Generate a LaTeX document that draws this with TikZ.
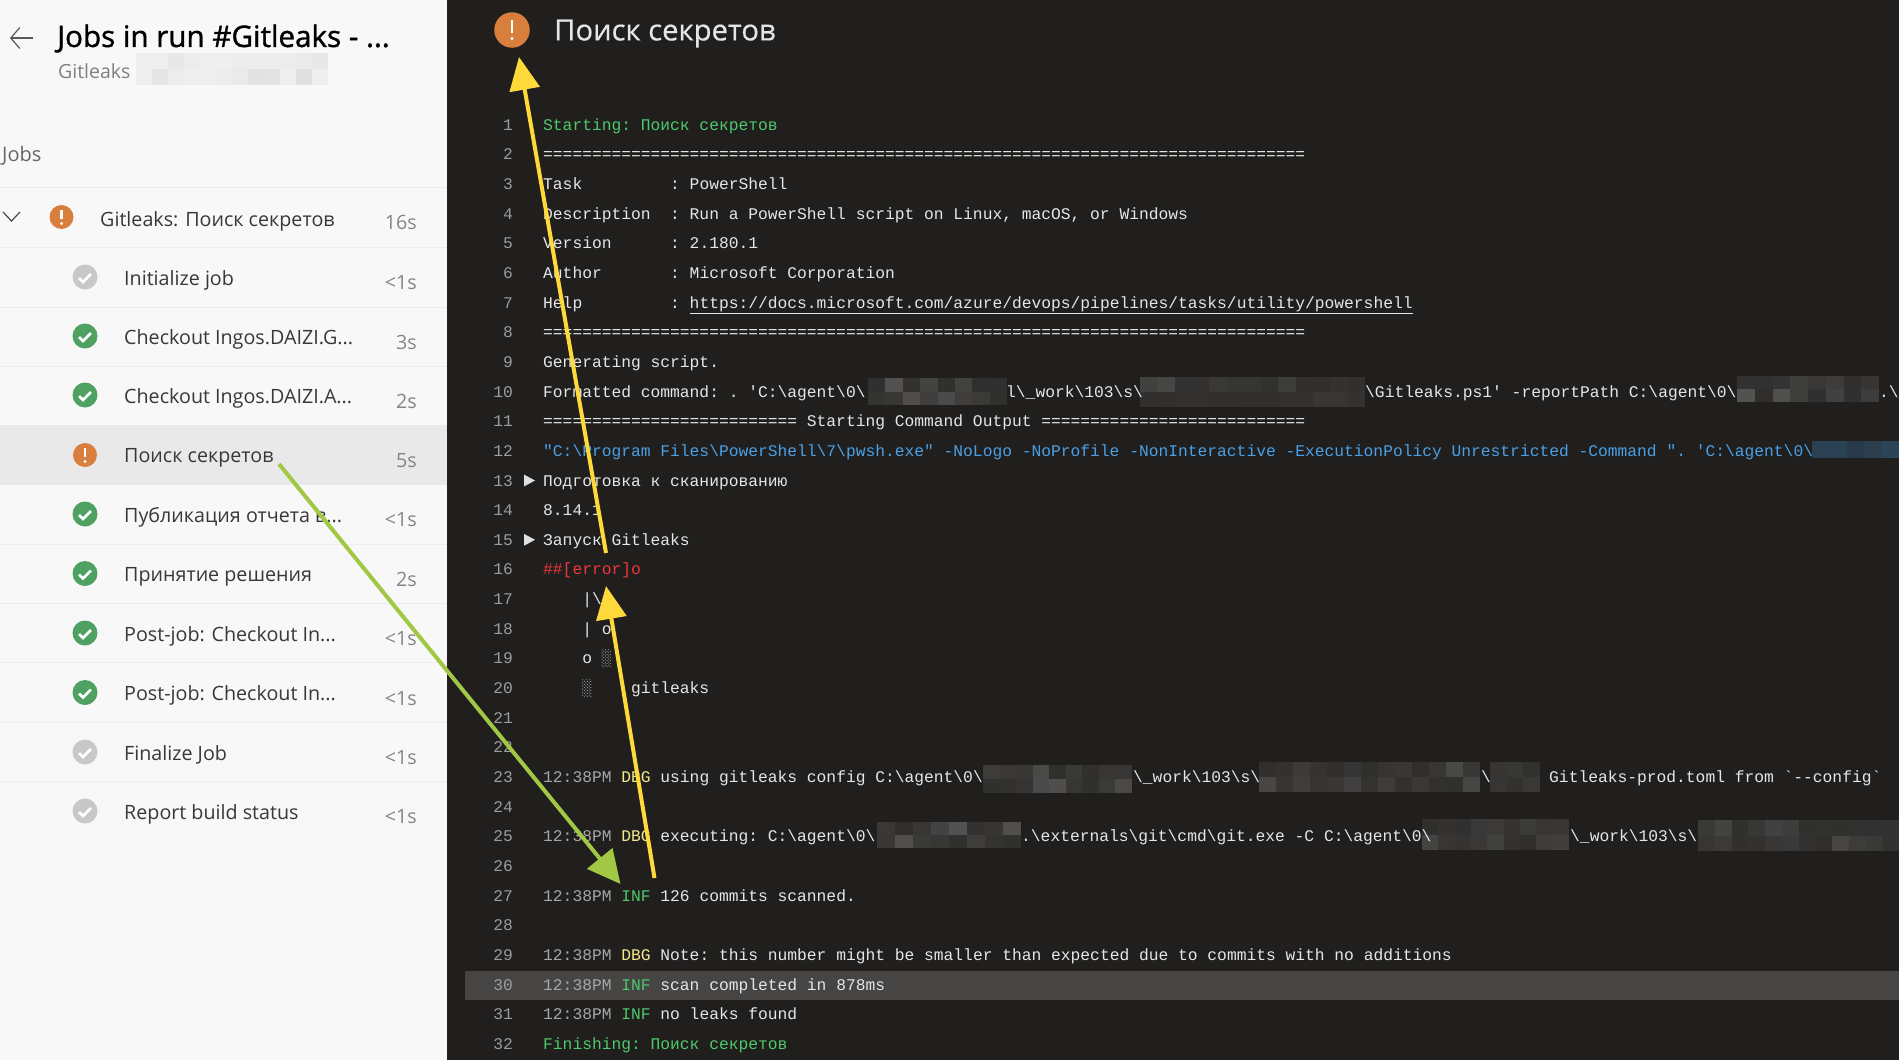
\documentclass[tikz,border=0pt]{standalone}
\usepackage{fontspec}
\usepackage{tikz}
\usetikzlibrary{arrows.meta}
\setmainfont{Open Sans}
\newfontfamily\logfont{Liberation Mono}
\newfontfamily\headfont[FakeBold=1.2]{Open Sans}
\newfontfamily\paneheadfont[FakeBold=0.5]{Open Sans}
\definecolor{panel}{HTML}{F8F8F8}
\definecolor{console}{HTML}{201F1E}
\definecolor{picked}{HTML}{E9E9E9}
\definecolor{rule}{HTML}{EDEDED}
\definecolor{okgreen}{HTML}{4FA162}
\definecolor{skipgrey}{HTML}{C8C8C8}
\definecolor{warnorange}{HTML}{D97F3E}
\definecolor{lognum}{HTML}{9C9C9C}
\definecolor{logtext}{HTML}{E6E6E6}
\definecolor{logtime}{HTML}{A6A6A6}
\definecolor{loggreen}{HTML}{4EC96B}
\definecolor{logyellow}{HTML}{F2E98C}
\definecolor{logblue}{HTML}{4AA0E6}
\definecolor{logred}{HTML}{F0353A}
\definecolor{hiline}{HTML}{464544}
\definecolor{yellowarrow}{HTML}{FFD83A}
\definecolor{greenarrow}{HTML}{A0C845}
\colorlet{blurlight}{black!13}
\colorlet{blurlow}{black!6}
\colorlet{blurhigh}{white!28!console}
\colorlet{blurmid}{white!20!console}
\colorlet{blurdark}{white!7!console}
\colorlet{blurbluehigh}{logblue!40!console}
\colorlet{blurbluelow}{logblue!22!console}
\newcommand{\bs}{\textbackslash}
\newcommand{\stamp}[1]{\textcolor{logtime}{12:38PM} \textcolor{#1}}
% x0,y0,x1,y1,cols,rows,light,dark
\newcommand{\pixpatch}[8]{%
  \pgfmathsetmacro\cw{(#3-#1)/#5}
  \pgfmathsetmacro\ch{(#4-#2)/#6}
  \foreach \i in {1,...,#5} {
    \foreach \j in {1,...,#6} {
      \pgfmathsetmacro\mixv{int(100*rnd*rnd)}
      \fill[#7!\mixv!#8] ({#1+(\i-1)*\cw},{#2+(\j-1)*\ch}) rectangle ++(\cw+0.4,\ch+0.4);
    }
  }
}
\tikzset{
  rowlabel/.style={anchor=west,inner sep=0pt,text=black!78,font=\fontsize{19.7}{24}\selectfont},
  rowtime/.style={anchor=east,inner sep=0pt,text=black!48,font=\fontsize{19.7}{24}\selectfont},
  okdot/.style={circle,inner sep=0pt,minimum size=25pt,fill=okgreen,path picture={
    \draw[white,line width=2.6pt] ([shift={(-6,1)}]path picture bounding box.center) -- ++(4,4) -- ++(8,-8);}},
  skipdot/.style={circle,inner sep=0pt,minimum size=25pt,fill=skipgrey,path picture={
    \draw[white,line width=2.6pt] ([shift={(-6,1)}]path picture bounding box.center) -- ++(4,4) -- ++(8,-8);}},
  warndot/.style={circle,inner sep=0pt,minimum size=24pt,fill=warnorange,path picture={
    \draw[white,line width=2.6pt] ([shift={(0,-7)}]path picture bounding box.center) -- ++(0,9);
    \fill[white] ([shift={(0,6.5)}]path picture bounding box.center) circle (1.7);}},
  lognode/.style={anchor=base west,inner sep=0pt,yshift=-5.5pt,text=logtext,font=\logfont\fontsize{16.28}{18}\selectfont\frenchspacing},
  numnode/.style={anchor=base east,inner sep=0pt,yshift=-5.5pt,text=lognum,font=\logfont\fontsize{16.28}{18}\selectfont},
  yellowline/.style={-{Triangle[length=33pt,width=30pt]},line width=4pt,yellowarrow},
  greenline/.style={-{Triangle[length=33pt,width=32pt]},line width=4pt,greenarrow},
}
\begin{document}
\begin{tikzpicture}[x=1pt,y=-1pt]
  \useasboundingbox (0,0) rectangle (1899,1060);
  \fill[panel] (0,0) rectangle (447,1060);
  \fill[console] (447,0) rectangle (1899,1060);

  % left panel
  \fill[picked] (0,425) rectangle (447,485);
  \foreach \ry in {187,247,307,366,544,603,662,722,781}
    \draw[rule,line width=1pt] (0,\ry) -- (447,\ry);
  \coordinate (backtail) at (33,38);
  \coordinate (backtip) at (10,38);
  \draw[-{Straight Barb[length=9pt,width=21pt]},black!65,line width=1.2pt] (backtail) -- (backtip);
  \node[anchor=west,inner sep=0pt,text=black,font=\headfont\fontsize{29.6}{34}\selectfont] (jobstitle) at (57,38.5) {Jobs in run \#Gitleaks - ...};
  \node[anchor=west,inner sep=0pt,text=black!50,font=\fontsize{19.5}{24}\selectfont] (pipeline) at (58,71) {Gitleaks};
  \pgfmathsetseed{7}
  \pixpatch{136}{53}{328}{85}{12}{2}{blurlight}{blurlow}
  \node[anchor=west,inner sep=0pt,text=black!60,font=\fontsize{20}{24}\selectfont] (jobshead) at (2,156) {Jobs};

  \coordinate (chevl) at (3,212);
  \coordinate (chevm) at (11.5,221);
  \coordinate (chevr) at (20,212);
  \draw[black!70,line width=1.2pt] (chevl) -- (chevm) -- (chevr);
  \node[warndot] (groupicon) at (61.5,217) {};
  \node[rowlabel] (grouplabel) at (100,221) {Gitleaks: Поиск секретов};
  \node[rowtime] (grouptime) at (417,222.5) {16s};

  \foreach \ry/\kind/\lab/\tm [count=\k] in {
    277/skipdot/{Initialize job}/{<1s},
    336/okdot/{Checkout Ingos.DAIZI.G...}/3s,
    395/okdot/{Checkout Ingos.DAIZI.A...}/2s,
    455/warndot/{Поиск секретов}/5s,
    514/okdot/{Публикация отчета в...}/{<1s},
    573.5/okdot/{Принятие решения}/2s,
    633/okdot/{Post-job: Checkout In...}/{<1s},
    692.5/okdot/{Post-job: Checkout In...}/{<1s},
    752/skipdot/{Finalize Job}/{<1s},
    811/skipdot/{Report build status}/{<1s}}
  {
    \node[\kind] (icon\k) at (85,\ry) {};
    \node[rowlabel] (job\k) at (124,\ry+3) {\lab};
    \node[rowtime] (time\k) at (417,\ry+6) {\tm};
  }

  % console header
  \node[circle,inner sep=0pt,minimum size=35.5pt,fill=warnorange] (headicon) at (512,30) {};
  \draw[white,line width=2pt] (512,20) -- (512,33);
  \fill[white] (512,38.5) circle (1.6);
  \node[anchor=west,inner sep=0pt,text=white!90!black,font=\paneheadfont\fontsize{29.2}{34}\selectfont] (headlabel) at (554,33.5) {Поиск секретов};

  % highlighted line and blurred paths
  \fill[hiline] (465,971) rectangle (1899,1000);
  \pixpatch{868}{378}{1007}{405}{8}{2}{blurhigh}{blurdark}
  \pixpatch{1140}{377}{1365}{407}{13}{2}{blurmid}{blurdark}
  \pixpatch{1737}{376}{1879}{402}{8}{2}{blurhigh}{blurdark}
  \pixpatch{1812}{441}{1899}{458}{5}{1}{blurbluehigh}{blurbluelow}
  \pixpatch{983}{765}{1132}{793}{9}{2}{blurhigh}{blurdark}
  \pixpatch{1259}{762}{1480}{792}{13}{2}{blurmid}{blurdark}
  \pixpatch{1490}{762}{1540}{792}{3}{2}{blurmid}{blurdark}
  \pixpatch{877}{822}{1021}{848}{8}{2}{blurhigh}{blurdark}
  \pixpatch{1422}{819}{1569}{850}{9}{2}{blurmid}{blurdark}
  \pixpatch{1698}{820}{1899}{851}{12}{2}{blurmid}{blurdark}

  % log lines, y counts line numbers
  \begin{scope}[y=-29.65pt,yshift=-95.05pt]
    \foreach \n in {1,...,32}
      \node[numnode] (num\n) at (513,\n) {\n};
    \fill[black!12] (524,13-0.2) -- (535,13) -- (524,13+0.2) -- cycle;
    \fill[black!12] (524,15-0.2) -- (535,15) -- (524,15+0.2) -- cycle;

    \node[lognode,text=loggreen] (log1) at (543,1) {Starting: Поиск секретов};
    \node[lognode] (log2) at (543,2) {==============================================================================};
    \node[lognode] (log3) at (543,3) {Task~~~~~~~~~: PowerShell};
    \node[lognode] (log4) at (543,4) {Description~~: Run a PowerShell script on Linux, macOS, or Windows};
    \node[lognode] (log5) at (543,5) {Version~~~~~~: 2.180.1};
    \node[lognode] (log6) at (543,6) {Author~~~~~~~: Microsoft Corporation};
    \node[lognode] (log7) at (543,7) {Help~~~~~~~~~: \underline{https://docs.microsoft.com/azure/devops/pipelines/tasks/utility/powershell}};
    \node[lognode] (log8) at (543,8) {==============================================================================};
    \node[lognode] (log9) at (543,9) {Generating script.};
    \node[lognode] (log10) at (543,10) {Formatted command: . 'C:\bs agent\bs 0\bs};
    \node[lognode] (log10b) at (1006,10) {l\bs\_work\bs 103\bs s\bs};
    \node[lognode] (log10c) at (1365,10) {\bs Gitleaks.ps1' -reportPath C:\bs agent\bs 0\bs};
    \node[lognode] (log10d) at (1879,10) {.\bs\_};
    \node[lognode] (log11) at (543,11) {========================== Starting Command Output ===========================};
    \node[lognode,text=logblue] (log12) at (543,12) {"C:\bs Program Files\bs PowerShell\bs 7\bs pwsh.exe" -NoLogo -NoProfile -NonInteractive -ExecutionPolicy Unrestricted -Command ". 'C:\bs agent\bs 0\bs};
    \node[lognode] (log13) at (543,13) {Подготовка к сканированию};
    \node[lognode] (log14) at (543,14) {8.14.1};
    \node[lognode] (log15) at (543,15) {Запуск Gitleaks};
    \node[lognode,text=logred] (log16) at (543,16) {\#\#[error]o};
    \node[lognode] (log17) at (543,17) {~~~~|\bs};
    \node[lognode] (log18) at (543,18) {~~~~| o};
    \node[lognode] (log19) at (543,19) {~~~~o ░};
    \node[lognode] (log20) at (543,20) {~~~~░~~~~gitleaks};
    \node[lognode] (log23) at (543,23) {\stamp{logyellow}{DBG} using gitleaks config C:\bs agent\bs 0\bs};
    \node[lognode] (log23b) at (1133,23) {\bs\_work\bs 103\bs s\bs};
    \node[lognode] (log23c) at (1481,23) {\bs};
    \node[lognode] (log23d) at (1549,23) {Gitleaks-prod.toml from `--config`};
    \node[lognode] (log25) at (543,25) {\stamp{logyellow}{DBG} executing: C:\bs agent\bs 0\bs};
    \node[lognode] (log25b) at (1021,25) {.\bs externals\bs git\bs cmd\bs git.exe -C C:\bs agent\bs 0\bs};
    \node[lognode] (log25c) at (1570,25) {\bs\_work\bs 103\bs s\bs};
    \node[lognode] (log27) at (543,27) {\stamp{loggreen}{INF} 126 commits scanned.};
    \node[lognode] (log29) at (543,29) {\stamp{logyellow}{DBG} Note: this number might be smaller than expected due to commits with no additions};
    \node[lognode] (log30) at (543,30) {\stamp{loggreen}{INF} scan completed in 878ms};
    \node[lognode] (log31) at (543,31) {\stamp{loggreen}{INF} no leaks found};
    \node[lognode,text=loggreen] (log32) at (543,32) {Finishing: Поиск секретов};
  \end{scope}

  % arrows
  \coordinate (pickedend) at (279,464);
  \coordinate (infotip) at (620.5,884);
  \coordinate (errtail) at (606,553);
  \coordinate (icontip) at (519,57);
  \coordinate (scantail) at (654.5,878);
  \coordinate (errtip) at (606,586);
  \draw[yellowline] (errtail) -- (icontip);
  \draw[yellowline] (scantail) -- (errtip);
  \draw[greenline] (pickedend) -- (infotip);
\end{tikzpicture}
\end{document}
